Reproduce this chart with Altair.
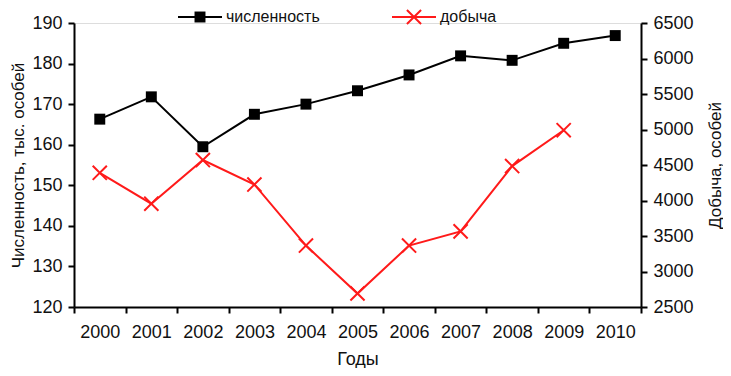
import altair as alt
import pandas as pd

years = [str(y) for y in range(2000, 2011)]
population = [166.3, 171.8, 159.5, 167.5, 170.0, 173.3, 177.2, 181.9, 180.8, 185.0, 186.9]
catch_years = [str(y) for y in range(2000, 2010)]
catch = [4390, 3955, 4570, 4225, 3365, 2690, 3365, 3565, 4485, 4990]

series_names = ["численность", "добыча"]
left_ticks = list(range(120, 191, 10))
right_ticks = list(range(2500, 6501, 500))

FONT = "Liberation Sans"
RED = "#ff1a1a"
XSHAPE = "M-1,-1L1,1M-1,1L1,-1"
W, H = 567, 284

pop_df = pd.DataFrame({"year": years, "value": population})
catch_df = pd.DataFrame({"year": catch_years, "value": catch})

common_axis = dict(labelFontSize=18, titleFontSize=17, titleFontWeight="normal",
                   tickSize=6, labelPadding=6, domainWidth=2, tickWidth=2,
                   domainColor="black", tickColor="black", labelColor="#111",
                   titleColor="#111", labelFont=FONT, titleFont=FONT, grid=False,
                   format="d", labelOverlap=False, titleAngle=270,
                   titleAlign="center", titleBaseline="middle", titleY=H / 2)

xenc = alt.X("year:O", title="Годы",
             scale=alt.Scale(domain=years, paddingInner=0, paddingOuter=0),
             axis=alt.Axis(labelAngle=0, tickBand="extent", labelFontSize=18,
                           titleFontSize=18, titleFontWeight="normal", titlePadding=9,
                           tickSize=6, labelPadding=10, domainWidth=2, tickWidth=2,
                           domainColor="black", tickColor="black", labelColor="#111",
                           titleColor="#111", labelFont=FONT, titleFont=FONT, grid=False))

black = alt.Chart(pop_df).mark_line(
    color="black", strokeWidth=2,
    point=alt.OverlayMarkDef(shape="square", filled=True, color="black", size=120, opacity=1),
).encode(
    x=xenc,
    y=alt.Y("value:Q", title="Численность, тыс. особей",
            scale=alt.Scale(domain=[120, 190], nice=False, zero=False),
            axis=alt.Axis(values=left_ticks, titleX=-56, orient="left", **common_axis)),
)

red = alt.Chart(catch_df).mark_line(
    color=RED, strokeWidth=2,
    point=alt.OverlayMarkDef(shape=XSHAPE, filled=False, color=RED, strokeWidth=2,
                             size=200, opacity=1),
).encode(
    x=alt.X("year:O"),
    y=alt.Y("value:Q", title="Добыча, особей",
            scale=alt.Scale(domain=[2500, 6500], nice=False, zero=False),
            axis=alt.Axis(values=right_ticks, titleX=74, orient="right", **common_axis)),
)

# legend (top)
LEG_Y = -6
def legend_item(name, color, shape, x0, filled, size):
    d = pd.DataFrame({"name": [name]})
    line = alt.Chart(d).mark_rule(color=color, strokeWidth=2).encode(
        x=alt.value(x0), x2=alt.value(x0 + 44), y=alt.value(LEG_Y))
    pt = alt.Chart(d).mark_point(shape=shape, filled=filled, color=color, size=size,
                                 strokeWidth=2, opacity=1).encode(
        x=alt.value(x0 + 22), y=alt.value(LEG_Y))
    txt = alt.Chart(d).mark_text(align="left", baseline="middle", fontSize=16, font=FONT,
                                 color="#111").encode(
        x=alt.value(x0 + 48), y=alt.value(LEG_Y), text="name:N")
    return alt.layer(line, pt, txt)

leg1 = legend_item(series_names[0], "black", "square", 104, True, 120)
leg2 = legend_item(series_names[1], RED, XSHAPE, 318, False, 200)

chart = alt.layer(black, red, leg1, leg2).resolve_scale(y="independent").properties(
    width=W, height=H,
    autosize=alt.AutoSizeParams(type="none"),
    padding={"left": 66, "top": 15, "right": 82, "bottom": 61},
).configure_view(stroke=None).configure(background="white")

chart.save("out.html", embed_options={"renderer": "svg", "actions": False})
